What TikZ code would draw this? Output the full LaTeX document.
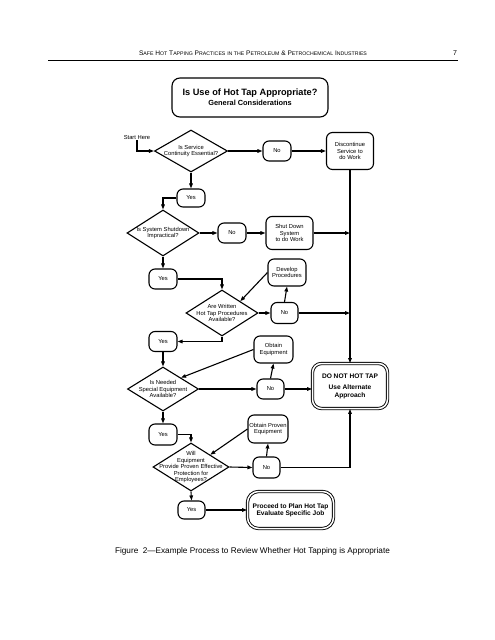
\documentclass[tikz,border=0pt]{standalone}
\usepackage{fontspec}
\setmainfont{Liberation Sans}
\usetikzlibrary{shapes.geometric, arrows.meta, positioning, calc}
\newcommand{\smc}[1]{{\fontsize{5.2}{6}\selectfont #1}}

\begin{document}
\begin{tikzpicture}[
        x=1pt, y=-1pt,
        base/.style={font=\fontsize{5.8}{6.7}\selectfont, align=center, inner sep=0pt},
        term/.style={base, rectangle, rounded corners=6pt, draw, line width=1.1pt},
        answer/.style={term, minimum width=28pt, minimum height=20pt},
        decision/.style={diamond, draw, line width=1.1pt, inner sep=0pt},
        final/.style={term, double, double distance=1.5pt, line width=0.9pt, rounded corners=9pt, font=\bfseries\fontsize{6.6}{7.4}\selectfont},
        arrow/.style={-{Triangle[length=5pt, width=3.6pt]}, line width=1.1pt}
    ]
        \useasboundingbox (0,0) rectangle (495,640);

        % Page header
        \node[font=\fontsize{6.6}{8}\selectfont] (header) at (253,53) {S\smc{AFE} H\smc{OT} T\smc{APPING} P\smc{RACTICES} \smc{IN THE} P\smc{ETROLEUM} \& P\smc{ETROCHEMICAL} I\smc{NDUSTRIES}};
        \node[font=\fontsize{7}{8}\selectfont] (pagenum) at (455,53) {7};
        \draw[line width=0.8pt] (48,60) -- (458,60);

        % Title
        \node[term, rounded corners=8pt, minimum width=156pt, minimum height=39pt] (title) at (250,97.5) {{\bfseries\fontsize{9.2}{11}\selectfont Is Use of Hot Tap Appropriate?}\\[2pt]{\bfseries\fontsize{7.4}{9}\selectfont General Considerations}};

        % Nodes
        \node[base] (start) at (137,138) {Start Here};
        \node[decision, minimum width=73pt, minimum height=42pt, label={[base]center:{Is Service\\Continuity Essential?}}] (d1) at (191,151) {};
        \node[answer] (no1) at (277,151) {No};
        \node[term, minimum width=47pt, minimum height=37pt] (disc) at (350,151) {Discontinue\\Service to\\do Work};
        \node[answer, minimum height=18pt] (yes1) at (191,198) {Yes};

        \node[decision, minimum width=72pt, minimum height=46pt, label={[base]center:{Is System Shutdown\\Impractical?}}] (d2) at (163,233) {};
        \node[answer] (no2) at (232,233) {No};
        \node[term, minimum width=47pt, minimum height=33pt] (shut) at (289.5,233) {Shut Down\\System\\to do Work};
        \node[answer] (yes2) at (163,279) {Yes};

        \node[decision, minimum width=72pt, minimum height=46pt, label={[base]center:{Are Written\\Hot Tap Procedures\\Available?}}] (d3) at (222,313) {};
        \node[answer, minimum width=27pt, minimum height=21pt] (no3) at (284.5,313) {No};
        \node[term, minimum width=38pt, minimum height=27pt] (dev) at (287,272.5) {Develop\\Procedures};
        \node[answer] (yes3) at (163,341.5) {Yes};

        \node[decision, minimum width=71pt, minimum height=44pt, label={[base]center:{Is Needed\\Special Equipment\\Available?}}] (d4) at (163,389) {};
        \node[answer, minimum width=27pt] (no4) at (270.5,389) {No};
        \node[term, minimum width=39pt, minimum height=27pt] (obt) at (273.5,349.5) {Obtain\\Equipment};
        \node[final, minimum width=75pt, minimum height=45pt] (dnht) at (350,386) {DO NOT HOT TAP\\[4pt]Use Alternate\\Approach};
        \node[answer, minimum height=21pt] (yes4) at (163,434.5) {Yes};

        \node[decision, minimum width=76pt, minimum height=48pt, label={[base, font=\fontsize{5.8}{6.5}\selectfont]center:{Will\\Equipment\\Provide Proven Effective\\Protection for\\Employees?}}] (d5) at (191,467) {};
        \node[answer, minimum width=27pt, minimum height=21pt] (no5) at (266.5,467.5) {No};
        \node[term, minimum width=40pt, minimum height=28pt] (opt) at (268,429) {Obtain Proven\\Equipment};
        \node[answer, minimum width=27pt, minimum height=18pt] (yes5) at (191.5,510) {Yes};
        \node[final, minimum width=86pt, minimum height=37pt, rounded corners=11pt] (proceed) at (290.5,510) {Proceed to Plan Hot Tap\\Evaluate Specific Job};

        % Caption
        \node[font=\fontsize{8.2}{10}\selectfont] (caption) at (252.5,551) {Figure\ \ 2—Example Process to Review Whether Hot Tapping is Appropriate};

        % Connections
        \draw[arrow] (start.south) |- (d1.west);
        \draw[arrow] (d1.east) -- (no1.west);
        \draw[arrow] (no1.east) -- (disc.west);
        \draw[arrow] (d1.south) -- (yes1.north);
        \draw[arrow] (yes1.west) -| (d2.north);
        \draw[arrow] (d2.east) -- (no2.west);
        \draw[arrow] (no2.east) -- (shut.west);
        \draw[arrow] (shut.east) -- (shut.east -| disc.south);
        \draw[arrow] (d2.south) -- (yes2.north);
        \draw[arrow] (yes2.east) -| (d3.north);
        \draw[arrow] (d3.east) -- (no3.west);
        \draw[arrow] (no3.north) -- (dev.south);
        \draw[arrow] (dev.west) -- (d3.north east);
        \draw[arrow] (no3.east) -- (no3.east -| disc.south);
        \draw[arrow] (d3.south) |- (yes3.east);
        \draw[arrow] (yes3.south) -- (d4.north);
        \draw[arrow] (d4.east) -- (no4.west);
        \draw[arrow] (no4.north) -- (obt.south);
        \draw[arrow] (obt.west) -- (d4.north east);
        \draw[arrow] (no4.east) -- (no4.east -| dnht.west);
        \draw[arrow] (disc.south) -- (dnht.north);
        \draw[arrow] (d4.south) -- (yes4.north);
        \draw[arrow] (yes4.east) -| (d5.north);
        \draw[arrow] (d5.east) -- (no5.west);
        \draw[arrow] (no5.north) -- (opt.south);
        \draw[arrow] (opt.west) -- (d5.north east);
        \draw[arrow] (no5.east) -| (dnht.south);
        \draw[arrow] (d5.south) -- (yes5.north);
        \draw[arrow] (yes5.east) -- (proceed.west);
    \end{tikzpicture}
\end{document}
